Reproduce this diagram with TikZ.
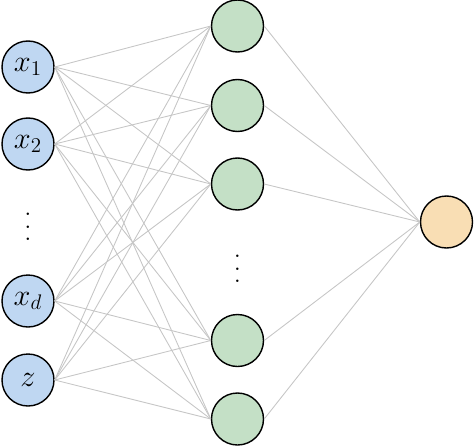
\documentclass[tikz,border=0pt]{standalone}
\usepackage{tikz}

\definecolor{inblue}{RGB}{191,215,242}
\definecolor{hidgreen}{RGB}{196,224,198}
\definecolor{outorange}{RGB}{249,222,180}

\newcommand{\bigvdots}{\vbox{\baselineskip=7pt \lineskiplimit=0pt \hbox{.}\hbox{.}\hbox{.}}}

\tikzset{
    neuron/.style={circle, draw=black, thick, minimum size=1.04cm, inner sep=0pt, font=\LARGE},
    link/.style={gray!45, line width=0.5pt}
}

\begin{document}
\begin{tikzpicture}
    \useasboundingbox (0,0) rectangle (9.48,8.94);

    % Input layer
    \foreach \y/\name/\label in {7.60/in1/x_1, 6.06/in2/x_2, 2.92/ind/x_d, 1.34/inz/z} {
        \node[neuron, fill=inblue] (\name) at (0.56,\y) {$\label$};
    }
    \node[font=\LARGE] (indots) at (0.56,4.40) {\bigvdots};

    % Hidden layer
    \foreach \y/\name in {8.42/h1, 6.83/h2, 5.26/h3, 2.13/h4, 0.56/h5} {
        \node[neuron, fill=hidgreen] (\name) at (4.75,\y) {};
    }
    \node[font=\LARGE] (hdots) at (4.75,3.56) {\bigvdots};

    % Output
    \node[neuron, fill=outorange] (out) at (8.93,4.50) {};

    % Connections
    \foreach \i in {in1, in2, ind, inz} {
        \foreach \h in {h1, h2, h3, h4, h5} {
            \draw[link] (\i.east) -- (\h.west);
        }
    }
    \foreach \h in {h1, h2, h3, h4, h5} {
        \draw[link] (\h.east) -- (out.west);
    }

\end{tikzpicture}
\end{document}
